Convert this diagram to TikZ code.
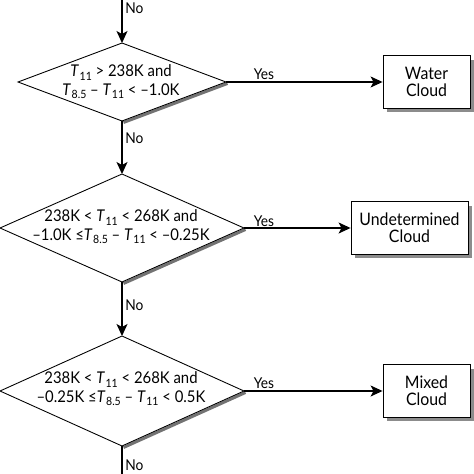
\documentclass[tikz,border=0pt]{standalone}
\usepackage{fontspec}
\setmainfont{Lato}[FakeStretch=0.92]
\usetikzlibrary{shapes.geometric,arrows.meta,shadows,backgrounds}
\newcommand{\Tsub}[1]{\textit{T}\kern0.04em\raisebox{-0.4ex}{\fontsize{6.5}{7}\selectfont #1}}
\begin{document}
\begin{tikzpicture}[x=0.02cm,y=-0.02cm,
  cond/.style={diamond,draw,fill=white,inner sep=0pt,outer sep=0pt,line width=0.5pt},
  condtext/.style={align=center,font=\fontsize{9.2}{10.6}\selectfont},
  result/.style={draw,fill=white,line width=0.5pt,align=center,minimum height=1.06cm,
    font=\fontsize{9.8}{9.8}\selectfont,
    drop shadow={shadow xshift=0.08cm,shadow yshift=-0.08cm,fill=black!45,opacity=1}},
  flow/.style={line width=0.7pt,-{Stealth[length=2.4mm,width=2.2mm,inset=0.6mm]}},
  rim/.style={line width=1.7pt,black!55},
  lbl/.style={font=\fontsize{8.5}{10}\selectfont,inner sep=0pt}]
\useasboundingbox (0,0) rectangle (474,474);
\coordinate (top) at (122,0);
\coordinate (bottom) at (122,474);
% decisions
\node[cond,minimum width=4.16cm,minimum height=1.56cm] (d1) at (122,82) {};
\node[cond,minimum width=4.88cm,minimum height=2.16cm] (d2) at (122,228) {};
\node[cond,minimum width=4.88cm,minimum height=2.2cm] (d3) at (122,391) {};
\node[condtext] (t1) at (121,82) {\Tsub{11} > 238K and\\ \Tsub{8.5} – \Tsub{11} < –1.0K};
\node[condtext] (t2) at (121,227) {238K < \Tsub{11} < 268K and\\ –1.0K ≤\Tsub{8.5} – \Tsub{11} < –0.25K};
\node[condtext] (t3) at (121,389) {238K < \Tsub{11} < 268K and\\ –0.25K ≤\Tsub{8.5} – \Tsub{11} < 0.5K};
\begin{scope}[on background layer]
\foreach \d in {d1,d2,d3}
  \draw[rim] ([shift={(1.5,1.5)}]\d.east) -- ([shift={(1.5,1.5)}]\d.south);
\end{scope}
% results
\node[result,minimum width=1.74cm] (b1) at (426.5,82) {Water\\Cloud};
\node[result,minimum width=2.34cm] (b2) at (409.5,228) {Undetermined\\Cloud};
\node[result,minimum width=1.74cm] (b3) at (426.5,391) {Mixed\\Cloud};
% connectors
\draw[flow] (top) -- (d1.north);
\draw[flow] (d1.south) -- (d2.north);
\draw[flow] (d2.south) -- (d3.north);
\draw[line width=0.7pt] (d3.south) -- (bottom);
\draw[flow] (d1.east) -- (b1.west);
\draw[flow] (d2.east) -- (b2.west);
\draw[flow] (d3.east) -- (b3.west);
\foreach \y/\n in {8/n0,138/n1,305/n2,465/n3}
  \node[lbl,anchor=west] (\n) at (125,\y) {No};
\foreach \y/\n in {74/y1,221/y2,383/y3}
  \node[lbl] (\n) at (264,\y) {Yes};
\end{tikzpicture}
\end{document}
